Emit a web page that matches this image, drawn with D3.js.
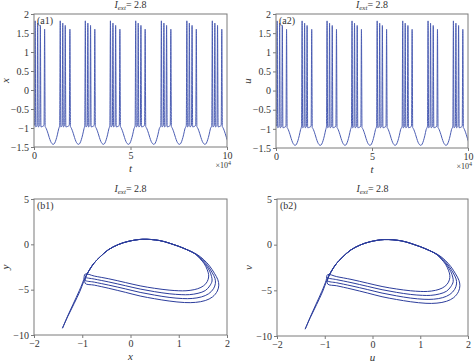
<!DOCTYPE html>
<html lang="en">
<head>
<meta charset="UTF-8">
<title>Bursting x/u and phase portraits</title>
<script src="https://d3js.org/d3.v7.min.js"></script>
<style>
  body { margin: 0; background: #fff; }
  text { font-family: "Liberation Serif", "DejaVu Serif", serif; fill: #333; }
</style>
</head>
<body>
<div id="chart"></div>
<script>
// ---- time series (t in units of 1e4) ----
// spike times of each burst (a1)
const spikeTimes = [
  [0.06, 0.19, 0.33, 0.55],
  [1.36, 1.49, 1.62, 1.86],
  [2.66, 2.79, 2.93, 3.15],
  [3.96, 4.09, 4.23, 4.45],
  [5.27, 5.40, 5.54, 5.76],
  [6.60, 6.73, 6.87, 7.09],
  [7.92, 8.05, 8.19, 8.41],
  [9.24, 9.37, 9.51, 9.73]
];
const spikePeaks = [1.82, 1.76, 1.70, 1.60];
const spikeBase = -0.93, spikeReset = -0.97, startValue = -0.9;
// quiescent well after the last spike of a burst (time after last spike, value)
const wellDt = [0.06, 0.12, 0.18, 0.24, 0.31, 0.38, 0.45, 0.52, 0.59, 0.66, 0.73];
const wellX  = [-0.99, -1.06, -1.15, -1.25, -1.35, -1.41, -1.43, -1.40, -1.31, -1.18, -1.02];

// ---- phase portrait (x, y) ----
const diagonalUp = [[-1.41, -9.25], [-1.30, -7.95], [-1.17, -6.55], [-1.05, -5.2], [-0.97, -4.1], [-0.92, -3.45]];
const arc = [[-0.86, -2.9], [-0.76, -2.1], [-0.63, -1.38], [-0.46, -0.6], [-0.25, -0.02], [-0.05, 0.32],
             [0.25, 0.56], [0.6, 0.42], [0.8, 0.14], [1.0, -0.22], [1.2, -0.66]];
const loops = [
  [[1.38, -1.12], [1.52, -1.7], [1.64, -2.4], [1.74, -3.2], [1.81, -3.9], [1.83, -4.5], [1.8, -5.15], [1.7, -5.8],
   [1.55, -6.2], [1.35, -6.4], [1.12, -6.42], [0.8, -6.25], [0.5, -6.0], [0.2, -5.7], [-0.1, -5.3], [-0.45, -4.85],
   [-0.75, -4.5], [-0.94, -4.3]],
  [[1.36, -1.1], [1.49, -1.68], [1.6, -2.35], [1.69, -3.1], [1.75, -3.75], [1.76, -4.3], [1.72, -4.9], [1.62, -5.45],
   [1.47, -5.8], [1.28, -5.97], [1.08, -5.98], [0.8, -5.85], [0.5, -5.6], [0.2, -5.3], [-0.1, -4.92], [-0.45, -4.5],
   [-0.75, -4.17], [-0.94, -3.95]],
  [[1.35, -1.08], [1.46, -1.62], [1.56, -2.25], [1.64, -2.95], [1.68, -3.55], [1.69, -4.05], [1.64, -4.6], [1.55, -5.1],
   [1.4, -5.4], [1.22, -5.55], [1.05, -5.55], [0.8, -5.45], [0.5, -5.22], [0.2, -4.93], [-0.1, -4.57], [-0.45, -4.15],
   [-0.75, -3.83], [-0.94, -3.62]],
  [[1.34, -1.06], [1.44, -1.58], [1.53, -2.15], [1.59, -2.8], [1.62, -3.35], [1.61, -3.85], [1.56, -4.35], [1.46, -4.75],
   [1.32, -5.0], [1.15, -5.12], [1.0, -5.12], [0.8, -5.05], [0.5, -4.85], [0.2, -4.58], [-0.1, -4.22], [-0.45, -3.8],
   [-0.75, -3.5], [-0.94, -3.28]]
];
const rejoin = [-0.92, -3.5];
const diagonalDown = [[-0.97, -3.9], [-1.06, -5.1], [-1.19, -6.6], [-1.31, -8.0], [-1.41, -9.25]];

const tTicks = [0, 5, 10];
const xTicksA = [-1.5, -1, -0.5, 0, 0.5, 1, 1.5, 2];
const xTicksB = [-2, -1, 0, 1, 2];
const yTicksB = [-10, -5, 0, 5];

// build series
const series = [[0, startValue]];
spikeTimes.forEach(burst => {
  burst.forEach((ts, i) => {
    series.push([ts - 0.03, spikeBase], [ts, spikePeaks[i]], [ts + 0.03, spikeReset]);
  });
  const tL = burst[burst.length - 1];
  wellDt.forEach((dt, j) => series.push([tL + dt, wellX[j]]));
});

let orbit = diagonalUp.slice();
loops.forEach((lp, k) => {
  if (k > 0) orbit.push(rejoin);
  orbit = orbit.concat(arc, lp);
});
orbit = orbit.concat(diagonalDown);

const W = 474, H = 364;
const svg = d3.select("#chart").append("svg").attr("width", W).attr("height", H);
const defs = svg.append("defs");

const panels = [
  { id: "a1", l: 34, r: 227, t: 14, b: 147, xd: [0, 10], yd: [-1.5, 2], xt: tTicks, yt: xTicksA,
    xl: "t", yl: "x", data: series, curve: d3.curveMonotoneX, color: "#4b5db3", exp: true, titleY: 8 },
  { id: "a2", l: 276, r: 468, t: 14, b: 148, xd: [0, 10], yd: [-1.5, 2], xt: tTicks, yt: xTicksA,
    xl: "t", yl: "u", data: series, curve: d3.curveMonotoneX, color: "#4b5db3", exp: true, titleY: 8 },
  { id: "b1", l: 34, r: 227, t: 199, b: 335, xd: [-2, 2], yd: [-10, 5], xt: xTicksB, yt: yTicksB,
    xl: "x", yl: "y", data: orbit, curve: d3.curveCatmullRom.alpha(0.5), color: "#2c3d9c", exp: false, titleY: 192 },
  { id: "b2", l: 277, r: 468, t: 199, b: 336, xd: [-2, 2], yd: [-10, 5], xt: xTicksB, yt: yTicksB,
    xl: "u", yl: "v", data: orbit, curve: d3.curveCatmullRom.alpha(0.5), color: "#2c3d9c", exp: false, titleY: 192 }
];

const fmt = d3.format("");

panels.forEach(p => {
  const x = d3.scaleLinear().domain(p.xd).range([p.l, p.r]);
  const y = d3.scaleLinear().domain(p.yd).range([p.b, p.t]);
  const g = svg.append("g");

  defs.append("clipPath").attr("id", "clip-" + p.id)
    .append("rect").attr("x", p.l).attr("y", p.t).attr("width", p.r - p.l).attr("height", p.b - p.t);

  g.append("path")
    .datum(p.data)
    .attr("clip-path", "url(#clip-" + p.id + ")")
    .attr("fill", "none")
    .attr("stroke", p.color)
    .attr("stroke-width", 1)
    .attr("d", d3.line().x(d => x(d[0])).y(d => y(d[1])).curve(p.curve));

  g.append("rect")
    .attr("x", p.l).attr("y", p.t).attr("width", p.r - p.l).attr("height", p.b - p.t)
    .attr("fill", "none").attr("stroke", "#7a7a7a").attr("stroke-width", 1);

  const ax = g.append("g").attr("transform", `translate(0,${p.b})`)
    .call(d3.axisBottom(x).tickValues(p.xt).tickSize(3).tickPadding(2).tickFormat(fmt));
  const ay = g.append("g").attr("transform", `translate(${p.l},0)`)
    .call(d3.axisLeft(y).tickValues(p.yt).tickSize(3).tickPadding(2).tickFormat(fmt));
  [ax, ay].forEach(a => {
    a.attr("font-family", null);
    a.select(".domain").remove();
    a.selectAll("line").attr("stroke", "#7a7a7a");
    a.selectAll("text").attr("font-size", 10).attr("fill", "#333");
  });

  const cx = (p.l + p.r) / 2;
  // title I_ext = 2.8
  const title = g.append("text").attr("x", cx).attr("y", p.titleY).attr("text-anchor", "middle")
    .attr("font-size", 10);
  title.append("tspan").attr("font-style", "italic").text("I");
  title.append("tspan").attr("font-style", "italic").attr("font-size", 7).attr("dy", 2).text("ext");
  title.append("tspan").attr("dy", -2).text("= 2.8");

  // axis labels
  g.append("text").attr("x", cx).attr("y", p.b + 25)
    .attr("text-anchor", "middle").attr("font-size", 11).attr("font-style", "italic").text(p.xl);
  g.append("text").attr("transform", `translate(${p.l - 25},${(p.t + p.b) / 2}) rotate(-90)`)
    .attr("text-anchor", "middle").attr("font-size", 11).attr("font-style", "italic").text(p.yl);

  // panel tag
  g.append("text").attr("x", p.l + 3).attr("y", p.t + 10).attr("font-size", 10).text("(" + p.id + ")");

  if (p.exp) {
    const e = g.append("text").attr("x", p.r + 4).attr("y", p.b + 21)
      .attr("text-anchor", "end").attr("font-size", 8);
    e.append("tspan").text("×10");
    e.append("tspan").attr("font-size", 6).attr("dy", -3).text("4");
  }
});
</script>
</body>
</html>
